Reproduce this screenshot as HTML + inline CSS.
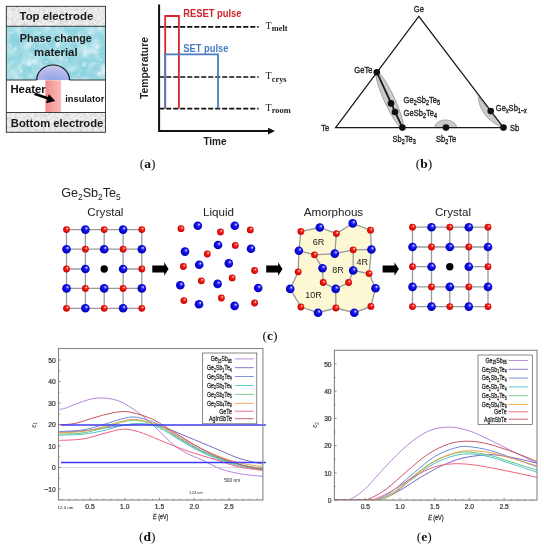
<!DOCTYPE html>
<html><head><meta charset="utf-8"><title>Figure</title>
<style>
html,body{margin:0;padding:0;background:#fff;}
svg{display:block}
text{font-family:"Liberation Sans",sans-serif;}
.ser{font-family:"Liberation Serif",serif;}
.b{font-weight:bold}
</style></head><body>
<svg width="544" height="550" viewBox="0 0 544 550">
<defs>
<radialGradient id="gb" cx="0.5" cy="0.5" fx="0.66" fy="0.32" r="0.62"><stop offset="0" stop-color="#f4f4ff"/><stop offset="0.16" stop-color="#8080ff"/><stop offset="0.3" stop-color="#2424f4"/><stop offset="0.55" stop-color="#0808e0"/><stop offset="1" stop-color="#000090"/></radialGradient>
<radialGradient id="gr" cx="0.5" cy="0.5" fx="0.66" fy="0.32" r="0.62"><stop offset="0" stop-color="#fff0e8"/><stop offset="0.16" stop-color="#ff9078"/><stop offset="0.3" stop-color="#f42a1c"/><stop offset="0.6" stop-color="#e80c0c"/><stop offset="1" stop-color="#980000"/></radialGradient>
<linearGradient id="heat" x1="0" x2="1" y1="0" y2="0"><stop offset="0" stop-color="#f28a8a"/><stop offset="0.5" stop-color="#f6a3a3"/><stop offset="1" stop-color="#f9bcbc"/></linearGradient>
<radialGradient id="dome" cx="0.5" cy="0.95" r="0.85"><stop offset="0" stop-color="#8fa4e6"/><stop offset="0.45" stop-color="#a9b0ea"/><stop offset="1" stop-color="#c6c8f0"/></radialGradient><radialGradient id="drop" cx="0.4" cy="0.35" r="0.65"><stop offset="0" stop-color="#fff" stop-opacity="0.55"/><stop offset="0.7" stop-color="#fff" stop-opacity="0.12"/><stop offset="1" stop-color="#3a9ab8" stop-opacity="0.35"/></radialGradient>
<filter id="marble" x="0" y="0" width="100%" height="100%"><feTurbulence type="fractalNoise" baseFrequency="0.35" numOctaves="3" seed="3" result="n"/><feColorMatrix in="n" type="matrix" values="0 0 0 0 0.5  0 0 0 0 0.5  0 0 0 0 0.5  0.9 0.9 0 0 -0.72"/><feComposite in2="SourceGraphic" operator="in"/></filter>
<filter id="water" x="0" y="0" width="100%" height="100%"><feTurbulence type="fractalNoise" baseFrequency="0.09" numOctaves="2" seed="8" result="n"/><feColorMatrix in="n" type="matrix" values="0 0 0 0 1  0 0 0 0 1  0 0 0 0 1  1.6 0 0 0 -0.55"/><feComposite in2="SourceGraphic" operator="in"/></filter>
<filter id="water2" x="0" y="0" width="100%" height="100%"><feTurbulence type="fractalNoise" baseFrequency="0.12" numOctaves="2" seed="21" result="n"/><feColorMatrix in="n" type="matrix" values="0 0 0 0 0.30  0 0 0 0 0.66  0 0 0 0 0.74  1.6 0 0 0 -0.55"/><feComposite in2="SourceGraphic" operator="in"/></filter>
</defs>
<rect width="544" height="550" fill="#fff"/>

<g id="device">
<g transform="translate(0.3 0.3)">
<rect x="6" y="6" width="99.2" height="20" fill="#f1f1f1"/>
<rect x="6" y="6" width="99.2" height="20" fill="#c4c4c4" filter="url(#marble)"/>
<rect x="6" y="112" width="99.2" height="20" fill="#f1f1f1"/>
<rect x="6" y="112" width="99.2" height="20" fill="#c4c4c4" filter="url(#marble)"/>
<rect x="6" y="26" width="99.2" height="54" fill="#8cd4e0"/>
<rect x="6" y="26" width="99.2" height="54" fill="#fff" filter="url(#water)"/>
<rect x="6" y="26" width="99.2" height="54" fill="#fff" filter="url(#water2)"/>
<ellipse cx="97.5" cy="47" rx="2.6" ry="3.3" fill="url(#drop)" transform="rotate(20 97.5 47)"/>
<ellipse cx="84" cy="65" rx="3" ry="3.6" fill="url(#drop)" transform="rotate(20 84 65)"/>
<ellipse cx="99" cy="74" rx="2.4" ry="2.8" fill="url(#drop)" transform="rotate(20 99 74)"/>
<ellipse cx="15.5" cy="49" rx="2.6" ry="3" fill="url(#drop)" transform="rotate(20 15.5 49)"/>
<ellipse cx="29" cy="65" rx="2.8" ry="3.3" fill="url(#drop)" transform="rotate(20 29 65)"/>
<ellipse cx="21" cy="72" rx="2" ry="2.4" fill="url(#drop)" transform="rotate(20 21 72)"/>
<ellipse cx="58" cy="45" rx="3" ry="3.4" fill="url(#drop)" transform="rotate(20 58 45)"/>
<ellipse cx="74" cy="40" rx="1.8" ry="2.2" fill="url(#drop)" transform="rotate(20 74 40)"/>
<ellipse cx="40" cy="33" rx="1.6" ry="2" fill="url(#drop)" transform="rotate(20 40 33)"/>
<ellipse cx="90" cy="33" rx="1.8" ry="2.2" fill="url(#drop)" transform="rotate(20 90 33)"/>
<ellipse cx="12" cy="33" rx="1.5" ry="1.8" fill="url(#drop)" transform="rotate(20 12 33)"/>
<ellipse cx="66" cy="60" rx="1.6" ry="2" fill="url(#drop)" transform="rotate(20 66 60)"/>
<ellipse cx="46" cy="62" rx="1.5" ry="1.8" fill="url(#drop)" transform="rotate(20 46 62)"/>
<ellipse cx="12" cy="62" rx="1.4" ry="1.7" fill="url(#drop)" transform="rotate(20 12 62)"/>
<ellipse cx="78" cy="75" rx="1.6" ry="1.9" fill="url(#drop)" transform="rotate(20 78 75)"/>
<ellipse cx="101" cy="60" rx="1.5" ry="1.9" fill="url(#drop)" transform="rotate(20 101 60)"/>
<ellipse cx="34" cy="47" rx="1.3" ry="1.6" fill="url(#drop)" transform="rotate(20 34 47)"/>
<ellipse cx="24" cy="38" rx="1.3" ry="1.6" fill="url(#drop)" transform="rotate(20 24 38)"/>
<rect x="6" y="80" width="99.2" height="32" fill="#fff"/>
<rect x="45.1" y="80" width="15.7" height="32" fill="url(#heat)"/>
<path d="M36.4 79.7 A16.4 15 0 0 1 69.2 79.7 Z" fill="url(#dome)"/>
<path d="M36.4 79.7 A16.4 15 0 0 1 69.2 79.7" fill="none" stroke="#111" stroke-width="1.2"/>
<g stroke="#2a2a2a" stroke-width="0.9" fill="none"><rect x="6" y="6" width="99.2" height="126"/><path d="M6 26H105.2M6 79.7H36.4M69.2 79.7H105.2M6 112.2H105.2"/></g>
<g class="b" fill="#1a1a1a" text-anchor="middle">
<text x="56.1" y="20.2" font-size="11" textLength="73.6" lengthAdjust="spacingAndGlyphs">Top electrode</text>
<text x="55.5" y="41.5" font-size="11" textLength="72" lengthAdjust="spacingAndGlyphs">Phase change</text>
<text x="55.5" y="55.6" font-size="11" textLength="43.5" lengthAdjust="spacingAndGlyphs">material</text>
<text x="56.8" y="126.8" font-size="11" textLength="92.5" lengthAdjust="spacingAndGlyphs">Bottom electrode</text>
</g>
<text x="10.1" y="92.4" font-size="10.5" fill="#111" textLength="35.4" lengthAdjust="spacingAndGlyphs" style="font-weight:bold">Heater</text>
<text x="65" y="102" font-size="8.5" fill="#111" textLength="39" lengthAdjust="spacingAndGlyphs" style="font-weight:bold">insulator</text>
<path d="M34.2 93.4L48 98.2" stroke="#000" stroke-width="2.7" fill="none"/><path d="M55 100.6L45.6 103L48.6 94Z" fill="#000"/>
</g></g>
<g id="pulse">
<path d="M159.1 4.5V131.1H269" stroke="#111" stroke-width="2" fill="none"/>
<path d="M275 131.1L268 127.7V134.5Z" fill="#111"/>
<g stroke="#111" stroke-width="1.7" stroke-dasharray="5.1 1.9" fill="none"><path d="M159.2 26.8H258.6"/><path d="M159.2 77H258.6"/><path d="M159.2 108.6H258.6"/></g>
<path d="M165.2 108.6V16H178.9V108.6" stroke="#d8262c" stroke-width="1.8" fill="none"/>
<path d="M165.2 108.6V54.3H218V108.6" stroke="#4a7cc0" stroke-width="1.8" fill="none"/>
<text x="183.3" y="16.6" font-size="10.5" class="b" fill="#d0242a" textLength="58.2" lengthAdjust="spacingAndGlyphs">RESET pulse</text>
<text x="183.3" y="51.9" font-size="10.5" class="b" fill="#4a7cc0" textLength="45.2" lengthAdjust="spacingAndGlyphs">SET pulse</text>
<text transform="translate(147.5 68) rotate(-90)" text-anchor="middle" font-size="10" class="b" fill="#222" textLength="62" lengthAdjust="spacingAndGlyphs">Temperature</text>
<text x="215" y="144.5" text-anchor="middle" font-size="10" class="b" fill="#222">Time</text>
<text x="265.6" y="29.2" font-size="10" class="ser" fill="#222">T<tspan font-size="8.4" dy="2.2" class="b">melt</tspan></text>
<text x="265.6" y="79.4" font-size="10" class="ser" fill="#222">T<tspan font-size="8.4" dy="2.2" class="b">crys</tspan></text>
<text x="265.6" y="111.2" font-size="10" class="ser" fill="#222">T<tspan font-size="8.4" dy="2.2" class="b">room</tspan></text>
</g>
<text x="147.7" y="168" text-anchor="middle" font-size="13.5" class="ser" fill="#111">(<tspan class="b">a</tspan>)</text>
<text x="423.9" y="168" text-anchor="middle" font-size="13.5" class="ser" fill="#111">(<tspan class="b">b</tspan>)</text>
<text x="270" y="339.5" text-anchor="middle" font-size="13.5" class="ser" fill="#111">(<tspan class="b">c</tspan>)</text>
<text x="147.2" y="541.3" text-anchor="middle" font-size="13.5" class="ser" fill="#111">(<tspan class="b">d</tspan>)</text>
<text x="424.3" y="541.3" text-anchor="middle" font-size="13.5" class="ser" fill="#111">(<tspan class="b">e</tspan>)</text>
<g id="tern">
<g fill="#cbcbcb" stroke="#808080" stroke-width="0.6">
<ellipse cx="389.6" cy="100" rx="30.8" ry="5.2" transform="rotate(65.3 389.6 100)"/>
<path d="M434.6 127.6A11 7.7 0 0 1 456.6 127.6Z"/>
<path d="M503.5 127.6C492 124 479 113 478.2 96.6Z"/>
</g>
<path d="M418.8 16.4L335.6 127.6H503.5Z" fill="none" stroke="#1a1a1a" stroke-width="1.25" stroke-linejoin="miter"/>
<path d="M376.8 72.2L402.4 127.6" stroke="#1a1a1a" stroke-width="1.8"/>
<circle cx="376.8" cy="72.2" r="3.3" fill="#111"/>
<circle cx="402.4" cy="127.6" r="3.3" fill="#111"/>
<circle cx="391" cy="103.4" r="3.3" fill="#111"/>
<circle cx="395" cy="112" r="3.3" fill="#111"/>
<circle cx="446" cy="127.6" r="3.3" fill="#111"/>
<circle cx="490.7" cy="111.1" r="3.3" fill="#111"/>
<circle cx="503.5" cy="127.6" r="3.3" fill="#111"/>
<g transform="translate(418.8 12) scale(0.84 1)"><text font-size="9" fill="#2a2a2a" stroke="#2a2a2a" stroke-width="0.4" text-anchor="middle">Ge</text></g>
<g transform="translate(325.2 130.8) scale(0.84 1)"><text font-size="9" fill="#2a2a2a" stroke="#2a2a2a" stroke-width="0.4" text-anchor="middle">Te</text></g>
<g transform="translate(514.6 130.8) scale(0.84 1)"><text font-size="9" fill="#2a2a2a" stroke="#2a2a2a" stroke-width="0.4" text-anchor="middle">Sb</text></g>
<g transform="translate(372.4 72.9) scale(0.84 1)"><text font-size="9" fill="#2a2a2a" stroke="#2a2a2a" stroke-width="0.4" text-anchor="end">GeTe</text></g>
<g transform="translate(403.6 102.8) scale(0.84 1)"><text font-size="9" fill="#2a2a2a" stroke="#2a2a2a" stroke-width="0.4" text-anchor="start">Ge<tspan font-size="6.5" dy="2">2</tspan><tspan dy="-2">Sb</tspan><tspan font-size="6.5" dy="2">2</tspan><tspan dy="-2">Te</tspan><tspan font-size="6.5" dy="2">5</tspan></text></g>
<g transform="translate(403.6 115.8) scale(0.84 1)"><text font-size="9" fill="#2a2a2a" stroke="#2a2a2a" stroke-width="0.4" text-anchor="start">GeSb<tspan font-size="6.5" dy="2">2</tspan><tspan dy="-2">Te</tspan><tspan font-size="6.5" dy="2">4</tspan></text></g>
<g transform="translate(392.5 142) scale(0.84 1)"><text font-size="9" fill="#2a2a2a" stroke="#2a2a2a" stroke-width="0.4" text-anchor="start">Sb<tspan font-size="6.5" dy="2">2</tspan><tspan dy="-2">Te</tspan><tspan font-size="6.5" dy="2">3</tspan></text></g>
<g transform="translate(435.9 142) scale(0.84 1)"><text font-size="9" fill="#2a2a2a" stroke="#2a2a2a" stroke-width="0.4" text-anchor="start">Sb<tspan font-size="6.5" dy="2">2</tspan><tspan dy="-2">Te</tspan></text></g>
<g transform="translate(495.8 110.8) scale(0.84 1)"><text font-size="9" fill="#2a2a2a" stroke="#2a2a2a" stroke-width="0.4" text-anchor="start">Ge<tspan font-size="6.5" dy="2" font-style="italic">x</tspan><tspan dy="-2">Sb</tspan><tspan font-size="6.5" dy="2">1−<tspan font-style="italic">x</tspan></tspan></text></g>
</g>
<g id="struct">
<path d="M66.5 229.6H85.4M85.4 229.6H104.2M104.2 229.6H123.1M123.1 229.6H141.8M66.5 249.2H85.4M85.4 249.2H104.2M104.2 249.2H123.1M123.1 249.2H141.8M66.5 269.0H85.4M123.1 269.0H141.8M66.5 288.4H85.4M85.4 288.4H104.2M104.2 288.4H123.1M123.1 288.4H141.8M66.5 308.3H85.4M85.4 308.3H104.2M104.2 308.3H123.1M123.1 308.3H141.8M66.5 229.6V249.2M66.5 249.2V269.0M66.5 269.0V288.4M66.5 288.4V308.3M85.4 229.6V249.2M85.4 249.2V269.0M85.4 269.0V288.4M85.4 288.4V308.3M104.2 229.6V249.2M104.2 288.4V308.3M123.1 229.6V249.2M123.1 249.2V269.0M123.1 269.0V288.4M123.1 288.4V308.3M141.8 229.6V249.2M141.8 249.2V269.0M141.8 269.0V288.4M141.8 288.4V308.3" stroke="#9a9a9a" stroke-width="1.3" fill="none"/>
<circle cx="66.5" cy="229.6" r="3.4" fill="url(#gr)"/>
<circle cx="85.4" cy="229.6" r="4.3" fill="url(#gb)"/>
<circle cx="104.2" cy="229.6" r="3.4" fill="url(#gr)"/>
<circle cx="123.1" cy="229.6" r="4.3" fill="url(#gb)"/>
<circle cx="141.8" cy="229.6" r="3.4" fill="url(#gr)"/>
<circle cx="66.5" cy="249.2" r="4.3" fill="url(#gb)"/>
<circle cx="85.4" cy="249.2" r="3.4" fill="url(#gr)"/>
<circle cx="104.2" cy="249.2" r="4.3" fill="url(#gb)"/>
<circle cx="123.1" cy="249.2" r="3.4" fill="url(#gr)"/>
<circle cx="141.8" cy="249.2" r="4.3" fill="url(#gb)"/>
<circle cx="66.5" cy="269.0" r="3.4" fill="url(#gr)"/>
<circle cx="85.4" cy="269.0" r="4.3" fill="url(#gb)"/>
<circle cx="104.2" cy="269.0" r="3.7" fill="#000"/>
<circle cx="123.1" cy="269.0" r="4.3" fill="url(#gb)"/>
<circle cx="141.8" cy="269.0" r="3.4" fill="url(#gr)"/>
<circle cx="66.5" cy="288.4" r="4.3" fill="url(#gb)"/>
<circle cx="85.4" cy="288.4" r="3.4" fill="url(#gr)"/>
<circle cx="104.2" cy="288.4" r="4.3" fill="url(#gb)"/>
<circle cx="123.1" cy="288.4" r="3.4" fill="url(#gr)"/>
<circle cx="141.8" cy="288.4" r="4.3" fill="url(#gb)"/>
<circle cx="66.5" cy="308.3" r="3.4" fill="url(#gr)"/>
<circle cx="85.4" cy="308.3" r="4.3" fill="url(#gb)"/>
<circle cx="104.2" cy="308.3" r="3.4" fill="url(#gr)"/>
<circle cx="123.1" cy="308.3" r="4.3" fill="url(#gb)"/>
<circle cx="141.8" cy="308.3" r="3.4" fill="url(#gr)"/>
<path d="M412.5 227.2H431.5M431.5 227.2H449.8M449.8 227.2H468.8M468.8 227.2H488.0M412.5 247.0H431.5M431.5 247.0H449.8M449.8 247.0H468.8M468.8 247.0H488.0M412.5 266.7H431.5M468.8 266.7H488.0M412.5 286.9H431.5M431.5 286.9H449.8M449.8 286.9H468.8M468.8 286.9H488.0M412.5 306.6H431.5M431.5 306.6H449.8M449.8 306.6H468.8M468.8 306.6H488.0M412.5 227.2V247.0M412.5 247.0V266.7M412.5 266.7V286.9M412.5 286.9V306.6M431.5 227.2V247.0M431.5 247.0V266.7M431.5 266.7V286.9M431.5 286.9V306.6M449.8 227.2V247.0M449.8 286.9V306.6M468.8 227.2V247.0M468.8 247.0V266.7M468.8 266.7V286.9M468.8 286.9V306.6M488.0 227.2V247.0M488.0 247.0V266.7M488.0 266.7V286.9M488.0 286.9V306.6" stroke="#9a9a9a" stroke-width="1.3" fill="none"/>
<circle cx="412.5" cy="227.2" r="3.4" fill="url(#gr)"/>
<circle cx="431.5" cy="227.2" r="4.3" fill="url(#gb)"/>
<circle cx="449.8" cy="227.2" r="3.4" fill="url(#gr)"/>
<circle cx="468.8" cy="227.2" r="4.3" fill="url(#gb)"/>
<circle cx="488.0" cy="227.2" r="3.4" fill="url(#gr)"/>
<circle cx="412.5" cy="247.0" r="4.3" fill="url(#gb)"/>
<circle cx="431.5" cy="247.0" r="3.4" fill="url(#gr)"/>
<circle cx="449.8" cy="247.0" r="4.3" fill="url(#gb)"/>
<circle cx="468.8" cy="247.0" r="3.4" fill="url(#gr)"/>
<circle cx="488.0" cy="247.0" r="4.3" fill="url(#gb)"/>
<circle cx="412.5" cy="266.7" r="3.4" fill="url(#gr)"/>
<circle cx="431.5" cy="266.7" r="4.3" fill="url(#gb)"/>
<circle cx="449.8" cy="266.7" r="3.7" fill="#000"/>
<circle cx="468.8" cy="266.7" r="4.3" fill="url(#gb)"/>
<circle cx="488.0" cy="266.7" r="3.4" fill="url(#gr)"/>
<circle cx="412.5" cy="286.9" r="4.3" fill="url(#gb)"/>
<circle cx="431.5" cy="286.9" r="3.4" fill="url(#gr)"/>
<circle cx="449.8" cy="286.9" r="4.3" fill="url(#gb)"/>
<circle cx="468.8" cy="286.9" r="3.4" fill="url(#gr)"/>
<circle cx="488.0" cy="286.9" r="4.3" fill="url(#gb)"/>
<circle cx="412.5" cy="306.6" r="3.4" fill="url(#gr)"/>
<circle cx="431.5" cy="306.6" r="4.3" fill="url(#gb)"/>
<circle cx="449.8" cy="306.6" r="3.4" fill="url(#gr)"/>
<circle cx="468.8" cy="306.6" r="4.3" fill="url(#gb)"/>
<circle cx="488.0" cy="306.6" r="3.4" fill="url(#gr)"/>
<circle cx="181.0" cy="228.7" r="3.4" fill="url(#gr)"/>
<circle cx="220.5" cy="232.0" r="3.4" fill="url(#gr)"/>
<circle cx="250.3" cy="229.9" r="3.4" fill="url(#gr)"/>
<circle cx="235.3" cy="245.4" r="3.4" fill="url(#gr)"/>
<circle cx="207.3" cy="254.0" r="3.4" fill="url(#gr)"/>
<circle cx="183.4" cy="266.5" r="3.4" fill="url(#gr)"/>
<circle cx="254.6" cy="270.5" r="3.4" fill="url(#gr)"/>
<circle cx="201.3" cy="280.8" r="3.4" fill="url(#gr)"/>
<circle cx="232.2" cy="277.9" r="3.4" fill="url(#gr)"/>
<circle cx="183.9" cy="300.6" r="3.4" fill="url(#gr)"/>
<circle cx="221.4" cy="298.0" r="3.4" fill="url(#gr)"/>
<circle cx="254.6" cy="303.0" r="3.4" fill="url(#gr)"/>
<circle cx="197.8" cy="225.8" r="4.3" fill="url(#gb)"/>
<circle cx="234.8" cy="225.8" r="4.3" fill="url(#gb)"/>
<circle cx="218.0" cy="245.0" r="4.3" fill="url(#gb)"/>
<circle cx="251.0" cy="248.8" r="4.3" fill="url(#gb)"/>
<circle cx="185.0" cy="251.6" r="4.3" fill="url(#gb)"/>
<circle cx="199.2" cy="264.8" r="4.3" fill="url(#gb)"/>
<circle cx="228.8" cy="263.4" r="4.3" fill="url(#gb)"/>
<circle cx="180.3" cy="285.3" r="4.3" fill="url(#gb)"/>
<circle cx="217.6" cy="283.9" r="4.3" fill="url(#gb)"/>
<circle cx="258.2" cy="288.0" r="4.3" fill="url(#gb)"/>
<circle cx="199.0" cy="304.2" r="4.3" fill="url(#gb)"/>
<circle cx="234.6" cy="305.9" r="4.3" fill="url(#gb)"/>
<path d="M300.9 231.4L319.8 227.5L336.4 233.6L352.7 223.4L370.5 230.2L371.4 249.5L369.1 273.6L375.5 288.2L370.9 306.4L354.3 312.7L335.9 308.0L318.0 312.7L300.9 307.0L290.2 288.9L298.2 271.8L298.9 250.7Z" fill="#fdf8d4" stroke="#9a9a9a" stroke-width="1.3"/>
<path d="M336.4 233.6L334.8 253.6M298.9 250.7L314.5 254.8L334.8 253.6L353.2 249.8L371.4 249.5M314.5 254.8L322.5 268.2L323.2 282.5L335.7 288.9L348.6 282.5L353.2 270.5L353.2 249.8M353.2 270.5L369.1 273.6M335.7 288.9L335.9 308.0" fill="none" stroke="#9a9a9a" stroke-width="1.3"/>
<circle cx="300.9" cy="231.4" r="3.4" fill="url(#gr)"/>
<circle cx="336.4" cy="233.6" r="3.4" fill="url(#gr)"/>
<circle cx="370.5" cy="230.2" r="3.4" fill="url(#gr)"/>
<circle cx="314.5" cy="254.8" r="3.4" fill="url(#gr)"/>
<circle cx="353.2" cy="249.8" r="3.4" fill="url(#gr)"/>
<circle cx="298.2" cy="271.8" r="3.4" fill="url(#gr)"/>
<circle cx="369.1" cy="273.6" r="3.4" fill="url(#gr)"/>
<circle cx="323.2" cy="282.5" r="3.4" fill="url(#gr)"/>
<circle cx="348.6" cy="282.5" r="3.4" fill="url(#gr)"/>
<circle cx="300.9" cy="307.0" r="3.4" fill="url(#gr)"/>
<circle cx="335.9" cy="308.0" r="3.4" fill="url(#gr)"/>
<circle cx="370.9" cy="306.4" r="3.4" fill="url(#gr)"/>
<circle cx="319.8" cy="227.5" r="4.3" fill="url(#gb)"/>
<circle cx="352.7" cy="223.4" r="4.3" fill="url(#gb)"/>
<circle cx="298.9" cy="250.7" r="4.3" fill="url(#gb)"/>
<circle cx="334.8" cy="253.6" r="4.3" fill="url(#gb)"/>
<circle cx="371.4" cy="249.5" r="4.3" fill="url(#gb)"/>
<circle cx="322.5" cy="268.2" r="4.3" fill="url(#gb)"/>
<circle cx="353.2" cy="270.5" r="4.3" fill="url(#gb)"/>
<circle cx="290.2" cy="288.9" r="4.3" fill="url(#gb)"/>
<circle cx="335.7" cy="288.9" r="4.3" fill="url(#gb)"/>
<circle cx="375.5" cy="288.2" r="4.3" fill="url(#gb)"/>
<circle cx="318.0" cy="312.7" r="4.3" fill="url(#gb)"/>
<circle cx="354.3" cy="312.7" r="4.3" fill="url(#gb)"/>
<g font-size="9" fill="#222" text-anchor="middle"><text x="318.6" y="244.9">6R</text><text x="362.3" y="264.7">4R</text><text x="338" y="273.3">8R</text><text x="313.6" y="298.3">10R</text></g>
<path d="M152.3 265.4h11.9v-3.2l4.4 6.8l-4.4 6.8v-3.2h-11.9z" fill="#000"/>
<path d="M266.2 265.4h11.9v-3.2l4.4 6.8l-4.4 6.8v-3.2h-11.9z" fill="#000"/>
<path d="M382.6 265.4h11.9v-3.2l4.4 6.8l-4.4 6.8v-3.2h-11.9z" fill="#000"/>
<g font-size="11.6" fill="#222">
<text x="61.2" y="197.4" font-size="12.6">Ge<tspan font-size="8.4" dy="2.4">2</tspan><tspan dy="-2.4">Sb</tspan><tspan font-size="8.4" dy="2.4">2</tspan><tspan dy="-2.4">Te</tspan><tspan font-size="8.4" dy="2.4">5</tspan></text>
<text x="105.4" y="215.6" text-anchor="middle">Crystal</text><text x="218.5" y="215.8" text-anchor="middle">Liquid</text><text x="333.5" y="216" text-anchor="middle">Amorphous</text><text x="453" y="216.4" text-anchor="middle">Crystal</text>
</g></g>
<g id="pd">
<clipPath id="cd"><rect x="58.5" y="348.5" width="204.4" height="151.5"/></clipPath>
<path d="M58.5 467.5H263.5" stroke="#c8c8c8" stroke-width="0.7"/>
<g clip-path="url(#cd)" fill="none" stroke-width="1">
<path d="M59.4 409.2C60.1 409.1 61.9 409.2 63.6 408.7C65.3 408.2 67.2 407.5 69.8 406.4C72.5 405.4 75.1 404.0 79.6 402.6C84.1 401.2 90.6 398.4 97.0 398.1C103.3 397.7 110.8 398.2 117.8 400.6C124.8 403.1 132.3 408.3 138.7 412.9C145.0 417.4 150.2 422.6 156.0 427.9C161.8 433.2 168.2 440.4 173.4 444.7C178.6 449.0 182.7 451.1 187.3 453.5C191.9 456.0 195.4 456.9 201.2 459.5C207.0 462.2 215.1 467.0 222.0 469.4C229.0 471.9 235.9 473.0 242.9 474.2C249.9 475.3 260.3 476.1 263.8 476.5" stroke="#b784d6"/>
<path d="M59.4 432.2C63.4 432.0 74.5 431.8 83.0 430.9C91.6 430.1 101.6 428.2 110.8 427.1C120.1 425.9 130.5 424.2 138.7 424.1C146.8 423.9 151.4 423.9 159.5 426.0C167.6 428.1 178.0 433.0 187.3 436.8C196.6 440.5 207.0 445.0 215.1 448.4C223.2 451.8 230.2 455.0 236.0 457.2C241.7 459.3 245.2 460.1 249.8 461.3C254.5 462.4 261.4 463.8 263.8 464.3" stroke="#7a66c8"/>
<path d="M59.4 431.6C63.4 431.3 75.6 431.1 83.0 429.9C90.5 428.7 96.9 426.5 103.9 424.5C110.8 422.5 119.0 419.2 124.8 418.1C130.5 416.9 132.9 416.5 138.7 417.6C144.4 418.8 152.6 421.5 159.5 424.9C166.4 428.4 173.4 434.2 180.4 438.5C187.3 442.7 194.2 446.8 201.2 450.3C208.1 453.8 215.1 456.8 222.0 459.3C229.0 461.8 235.9 463.8 242.9 465.4C249.9 466.9 260.3 468.2 263.8 468.8" stroke="#6a8ad8"/>
<path d="M59.4 435.2C63.4 435.1 75.6 435.0 83.0 434.2C90.5 433.4 96.9 432.1 103.9 430.5C110.8 429.0 118.4 426.1 124.8 424.9C131.1 423.8 136.3 423.1 142.1 423.6C147.9 424.1 153.1 425.1 159.5 427.9C165.9 430.7 173.4 436.4 180.4 440.4C187.3 444.4 194.2 448.7 201.2 452.0C208.1 455.4 215.1 458.2 222.0 460.6C229.0 463.1 235.9 465.1 242.9 466.6C249.9 468.2 260.3 469.5 263.8 470.1" stroke="#4fc3cf"/>
<path d="M59.4 434.0C63.4 433.8 75.6 433.9 83.0 432.9C90.5 431.9 96.9 429.8 103.9 427.9C110.8 426.0 119.0 422.7 124.8 421.5C130.5 420.3 132.9 419.8 138.7 420.6C144.4 421.5 152.6 423.5 159.5 426.6C166.4 429.8 173.4 435.5 180.4 439.6C187.3 443.6 194.2 447.8 201.2 451.2C208.1 454.5 215.1 457.4 222.0 459.8C229.0 462.1 235.9 463.9 242.9 465.4C249.9 466.8 260.3 467.9 263.8 468.4" stroke="#6cc77a"/>
<path d="M59.4 432.7C63.4 432.5 75.6 432.4 83.0 431.4C90.5 430.4 96.9 428.5 103.9 426.6C110.8 424.8 119.0 421.6 124.8 420.4C130.5 419.3 132.9 418.9 138.7 419.8C144.4 420.6 152.6 422.4 159.5 425.4C166.4 428.3 173.4 433.5 180.4 437.4C187.3 441.3 194.2 445.2 201.2 448.6C208.1 451.9 215.1 455.1 222.0 457.6C229.0 460.1 235.9 462.1 242.9 463.6C249.9 465.1 260.3 466.1 263.8 466.6" stroke="#f2a04a"/>
<path d="M59.4 440.4C63.4 440.2 75.6 440.1 83.0 438.9C90.5 437.8 97.3 435.1 103.9 433.5C110.5 431.9 116.9 429.5 122.7 429.2C128.5 428.9 132.5 430.0 138.7 431.8C144.8 433.6 151.4 436.8 159.5 440.0C167.6 443.2 178.0 447.7 187.3 450.9C196.6 454.2 207.0 457.0 215.1 459.5C223.2 462.1 230.2 464.7 236.0 466.2C241.7 467.8 245.2 468.1 249.8 468.8C254.5 469.5 261.4 470.2 263.8 470.5" stroke="#f0607a"/>
<path d="M59.4 424.9C62.2 424.6 69.8 424.6 76.1 423.2C82.4 421.8 90.0 418.6 97.0 416.8C103.9 414.9 112.0 412.7 117.8 412.0C123.6 411.3 125.9 411.2 131.7 412.5C137.5 413.7 145.6 416.1 152.6 419.3C159.5 422.6 166.4 427.6 173.4 431.8C180.3 436.0 187.3 440.8 194.2 444.7C201.2 448.7 208.1 452.4 215.1 455.5C222.1 458.5 230.2 461.3 236.0 463.2C241.7 465.1 245.2 466.0 249.8 467.1C254.5 468.1 261.4 469.2 263.8 469.6" stroke="#c65560"/>
</g>
<path d="M61 425H266" stroke="#3c3cf2" stroke-width="1.4"/><path d="M61 462.5H266" stroke="#3c3cf2" stroke-width="1.4"/>
<rect x="58.5" y="348.5" width="204.4" height="151.5" fill="none" stroke="#858585" stroke-width="1.1"/>
<path d="M58.5 489.0h2.2M58.5 467.5h2.2M58.5 446.0h2.2M58.5 424.5h2.2M58.5 403.0h2.2M58.5 381.5h2.2M58.5 360.0h2.2M58.5 499.8h1.2M58.5 478.2h1.2M58.5 456.8h1.2M58.5 435.2h1.2M58.5 413.8h1.2M58.5 392.2h1.2M58.5 370.8h1.2M62.2 500v-1.2M69.2 500v-1.2M76.1 500v-1.2M83.0 500v-1.2M90.0 500v-2.2M97.0 500v-1.2M103.9 500v-1.2M110.8 500v-1.2M117.8 500v-1.2M124.8 500v-2.2M131.7 500v-1.2M138.7 500v-1.2M145.6 500v-1.2M152.6 500v-1.2M159.5 500v-2.2M166.4 500v-1.2M173.4 500v-1.2M180.4 500v-1.2M187.3 500v-1.2M194.2 500v-2.2M201.2 500v-1.2M208.2 500v-1.2M215.1 500v-1.2M222.0 500v-1.2M229.0 500v-2.2M236.0 500v-1.2M242.9 500v-1.2M249.8 500v-1.2M256.8 500v-1.2" stroke="#666" stroke-width="0.7"/>
<g transform="translate(55.8 491.7) scale(0.85 1)"><text font-size="7.9" fill="#333" stroke="#333" stroke-width="0.25" text-anchor="end">−10</text></g>
<g transform="translate(55.8 470.2) scale(0.85 1)"><text font-size="7.9" fill="#333" stroke="#333" stroke-width="0.25" text-anchor="end">0</text></g>
<g transform="translate(55.8 448.7) scale(0.85 1)"><text font-size="7.9" fill="#333" stroke="#333" stroke-width="0.25" text-anchor="end">10</text></g>
<g transform="translate(55.8 427.2) scale(0.85 1)"><text font-size="7.9" fill="#333" stroke="#333" stroke-width="0.25" text-anchor="end">20</text></g>
<g transform="translate(55.8 405.7) scale(0.85 1)"><text font-size="7.9" fill="#333" stroke="#333" stroke-width="0.25" text-anchor="end">30</text></g>
<g transform="translate(55.8 384.2) scale(0.85 1)"><text font-size="7.9" fill="#333" stroke="#333" stroke-width="0.25" text-anchor="end">40</text></g>
<g transform="translate(55.8 362.7) scale(0.85 1)"><text font-size="7.9" fill="#333" stroke="#333" stroke-width="0.25" text-anchor="end">50</text></g>
<g transform="translate(90.0 508.6) scale(0.85 1)"><text font-size="7.9" fill="#333" stroke="#333" stroke-width="0.25" text-anchor="middle">0.5</text></g>
<g transform="translate(124.75 508.6) scale(0.85 1)"><text font-size="7.9" fill="#333" stroke="#333" stroke-width="0.25" text-anchor="middle">1.0</text></g>
<g transform="translate(159.5 508.6) scale(0.85 1)"><text font-size="7.9" fill="#333" stroke="#333" stroke-width="0.25" text-anchor="middle">1.5</text></g>
<g transform="translate(194.25 508.6) scale(0.85 1)"><text font-size="7.9" fill="#333" stroke="#333" stroke-width="0.25" text-anchor="middle">2.0</text></g>
<g transform="translate(229.0 508.6) scale(0.85 1)"><text font-size="7.9" fill="#333" stroke="#333" stroke-width="0.25" text-anchor="middle">2.5</text></g>
<g transform="translate(160.7 519.4) scale(0.82 1)"><text font-size="6.6" fill="#333" stroke="#333" stroke-width="0.25" text-anchor="middle"><tspan font-style="italic">E</tspan> (eV)</text></g>
<text transform="translate(35.5 425) rotate(-90)" text-anchor="middle" font-size="7" font-style="italic" fill="#333">ε<tspan font-size="4.5" dy="1.5" font-style="normal">1</tspan></text>
<g font-size="4" fill="#222" style="font-family:'Liberation Mono',monospace"><text x="224.2" y="481.6" font-size="4.8">500 nm</text><text x="188.9" y="494.4" font-size="3.8">1.24 um</text><text x="57.6" y="509.1" font-size="4.4">12.4 um</text></g>
<rect x="202.7" y="353" width="54.10000000000002" height="70.80000000000001" fill="#fff" stroke="#555" stroke-width="0.7"/>
<path d="M234.9 358.9H253.7" stroke="#b784d6" stroke-width="0.9"/>
<g transform="translate(231.8 361.2) scale(0.76 1)"><text font-size="6.9" fill="#2a2a2a" stroke="#2a2a2a" stroke-width="0.25" text-anchor="end">Ge<tspan font-size="4.6" dy="1.6">15</tspan><tspan dy="-1.6">Sb</tspan><tspan font-size="4.6" dy="1.6">85</tspan></text></g>
<path d="M234.9 367.7H253.7" stroke="#7a66c8" stroke-width="0.9"/>
<g transform="translate(231.8 370.0) scale(0.76 1)"><text font-size="6.9" fill="#2a2a2a" stroke="#2a2a2a" stroke-width="0.25" text-anchor="end">Ge<tspan font-size="4.6" dy="1.6">2</tspan><tspan dy="-1.6">Sb</tspan><tspan font-size="4.6" dy="1.6">1</tspan><tspan dy="-1.6">Te</tspan><tspan font-size="4.6" dy="1.6">4</tspan></text></g>
<path d="M234.9 376.5H253.7" stroke="#6a8ad8" stroke-width="0.9"/>
<g transform="translate(231.8 378.8) scale(0.76 1)"><text font-size="6.9" fill="#2a2a2a" stroke="#2a2a2a" stroke-width="0.25" text-anchor="end">Ge<tspan font-size="4.6" dy="1.6">1</tspan><tspan dy="-1.6">Sb</tspan><tspan font-size="4.6" dy="1.6">2</tspan><tspan dy="-1.6">Te</tspan><tspan font-size="4.6" dy="1.6">4</tspan></text></g>
<path d="M234.9 385.5H253.7" stroke="#4fc3cf" stroke-width="0.9"/>
<g transform="translate(231.8 387.8) scale(0.76 1)"><text font-size="6.9" fill="#2a2a2a" stroke="#2a2a2a" stroke-width="0.25" text-anchor="end">Ge<tspan font-size="4.6" dy="1.6">2</tspan><tspan dy="-1.6">Sb</tspan><tspan font-size="4.6" dy="1.6">2</tspan><tspan dy="-1.6">Te</tspan><tspan font-size="4.6" dy="1.6">4</tspan></text></g>
<path d="M234.9 394.4H253.7" stroke="#6cc77a" stroke-width="0.9"/>
<g transform="translate(231.8 396.7) scale(0.76 1)"><text font-size="6.9" fill="#2a2a2a" stroke="#2a2a2a" stroke-width="0.25" text-anchor="end">Ge<tspan font-size="4.6" dy="1.6">2</tspan><tspan dy="-1.6">Sb</tspan><tspan font-size="4.6" dy="1.6">2</tspan><tspan dy="-1.6">Te</tspan><tspan font-size="4.6" dy="1.6">5</tspan></text></g>
<path d="M234.9 403.3H253.7" stroke="#f2a04a" stroke-width="0.9"/>
<g transform="translate(231.8 405.6) scale(0.76 1)"><text font-size="6.9" fill="#2a2a2a" stroke="#2a2a2a" stroke-width="0.25" text-anchor="end">Ge<tspan font-size="4.6" dy="1.6">2</tspan><tspan dy="-1.6">Sb</tspan><tspan font-size="4.6" dy="1.6">4</tspan><tspan dy="-1.6">Te</tspan><tspan font-size="4.6" dy="1.6">9</tspan></text></g>
<path d="M234.9 411.2H253.7" stroke="#f0607a" stroke-width="0.9"/>
<g transform="translate(231.8 413.5) scale(0.76 1)"><text font-size="6.9" fill="#2a2a2a" stroke="#2a2a2a" stroke-width="0.25" text-anchor="end">GeTe</text></g>
<path d="M234.9 418.7H253.7" stroke="#c65560" stroke-width="0.9"/>
<g transform="translate(231.8 421.0) scale(0.76 1)"><text font-size="6.9" fill="#2a2a2a" stroke="#2a2a2a" stroke-width="0.25" text-anchor="end">AgInSbTe</text></g>
</g>
<g id="pe">
<clipPath id="ce"><rect x="334.4" y="350.3" width="202.6" height="149.8"/></clipPath>
<g clip-path="url(#ce)" fill="none" stroke-width="1">
<path d="M334.8 500.1C336.4 500.1 341.7 500.2 344.5 500.0C347.3 499.7 348.0 500.6 351.4 498.7C354.9 496.9 359.5 494.1 365.3 488.7C371.1 483.2 379.2 473.2 386.1 466.0C393.1 458.9 400.0 451.4 406.9 445.6C413.9 439.8 420.8 434.5 427.8 431.4C434.7 428.3 441.6 427.2 448.6 427.1C455.5 427.0 462.5 428.7 469.4 430.9C476.3 433.1 483.3 436.9 490.2 440.2C497.2 443.4 502.9 446.5 511.0 450.5C519.1 454.5 534.2 461.9 538.8 464.1" stroke="#b784d6"/>
<path d="M334.8 500.1C341.0 500.1 364.3 500.3 372.2 500.1C380.2 499.9 378.0 500.4 382.7 498.7C387.3 497.1 393.6 493.9 400.0 490.3C406.4 486.7 413.9 481.3 420.8 477.2C427.8 473.1 434.7 468.9 441.6 465.8C448.6 462.6 455.5 459.9 462.5 458.1C469.4 456.4 477.5 455.6 483.3 455.1C489.1 454.6 491.4 454.5 497.2 455.1C502.9 455.7 511.0 457.3 518.0 458.7C524.9 460.1 535.3 462.8 538.8 463.6" stroke="#7a66c8"/>
<path d="M334.8 500.1C340.4 500.1 361.4 500.3 368.8 500.1C376.2 499.9 375.1 500.3 379.2 498.7C383.2 497.1 387.3 494.9 393.1 490.6C398.8 486.2 406.9 478.5 413.9 472.9C420.8 467.2 427.8 460.7 434.7 456.5C441.6 452.3 449.7 449.4 455.5 447.8C461.3 446.1 463.6 446.2 469.4 446.7C475.2 447.1 483.3 448.7 490.2 450.5C497.2 452.3 502.9 454.8 511.0 457.6C519.1 460.4 534.2 465.8 538.8 467.4" stroke="#6a8ad8"/>
<path d="M334.8 500.1C341.0 500.1 364.3 500.4 372.2 500.1C380.2 499.8 378.6 499.9 382.7 498.5C386.7 497.0 391.3 494.8 396.5 491.4C401.7 487.9 407.5 482.4 413.9 477.8C420.2 473.1 427.8 467.0 434.7 463.3C441.6 459.6 449.2 457.0 455.5 455.4C461.9 453.9 467.1 453.8 472.9 454.0C478.7 454.3 483.9 455.5 490.2 457.0C496.6 458.6 502.9 461.0 511.0 463.6C519.1 466.2 534.2 471.3 538.8 472.9" stroke="#4fc3cf"/>
<path d="M334.8 500.1C341.0 500.1 364.3 500.4 372.2 500.1C380.2 499.8 378.6 499.8 382.7 498.2C386.7 496.6 391.3 494.1 396.5 490.3C401.7 486.5 407.5 480.5 413.9 475.6C420.2 470.7 427.8 464.6 434.7 460.9C441.6 457.1 449.7 454.7 455.5 453.2C461.3 451.8 463.6 451.8 469.4 452.1C475.2 452.5 483.3 453.8 490.2 455.4C497.2 457.0 502.9 459.4 511.0 462.0C519.1 464.5 534.2 469.2 538.8 470.7" stroke="#6cc77a"/>
<path d="M334.8 500.1C341.0 500.1 364.3 500.3 372.2 500.1C380.2 499.9 378.6 500.2 382.7 498.7C386.7 497.3 391.3 495.1 396.5 491.4C401.7 487.7 407.5 481.7 413.9 476.7C420.2 471.7 427.8 465.4 434.7 461.4C441.6 457.4 449.2 454.5 455.5 452.7C461.9 450.9 467.1 450.8 472.9 450.8C478.7 450.8 483.9 451.5 490.2 452.7C496.6 453.9 502.9 455.9 511.0 458.1C519.1 460.4 534.2 464.9 538.8 466.3" stroke="#f2a04a"/>
<path d="M334.8 500.1C339.9 500.1 358.5 500.3 365.3 500.1C372.1 499.9 371.1 500.4 375.7 498.7C380.3 497.1 386.7 494.0 393.1 490.3C399.4 486.6 406.9 480.6 413.9 476.7C420.8 472.8 428.3 469.0 434.7 466.9C441.1 464.7 446.3 464.3 452.1 463.9C457.8 463.4 463.0 463.8 469.4 464.4C475.8 465.0 483.3 466.4 490.2 467.7C497.2 468.9 502.9 470.1 511.0 471.8C519.1 473.4 534.2 476.8 538.8 477.8" stroke="#f0607a"/>
<path d="M334.8 500.1C338.9 500.1 354.1 500.3 359.7 500.1C365.4 499.9 364.4 500.8 368.8 499.0C373.2 497.2 379.8 493.8 386.1 489.2C392.5 484.6 400.0 477.0 406.9 471.2C413.9 465.4 420.8 458.9 427.8 454.3C434.7 449.8 442.2 446.1 448.6 444.0C454.9 441.8 460.1 441.4 465.9 441.2C471.7 441.1 476.9 441.6 483.3 442.9C489.6 444.1 497.2 446.6 504.1 448.9C511.0 451.1 519.1 454.2 524.9 456.5C530.7 458.8 536.5 461.5 538.8 462.5" stroke="#c65560"/>
</g>
<rect x="334.4" y="350.3" width="202.6" height="149.8" fill="none" stroke="#858585" stroke-width="1.1"/>
<path d="M334.4 500.1h2.2M334.4 472.9h2.2M334.4 445.6h2.2M334.4 418.4h2.2M334.4 391.1h2.2M334.4 363.9h2.2M334.4 486.5h1.2M334.4 459.2h1.2M334.4 432.0h1.2M334.4 404.7h1.2M334.4 377.5h1.2M337.5 500.1v-1.2M344.5 500.1v-1.2M351.4 500.1v-1.2M358.4 500.1v-1.2M365.3 500.1v-2.2M372.2 500.1v-1.2M379.2 500.1v-1.2M386.1 500.1v-1.2M393.1 500.1v-1.2M400.0 500.1v-2.2M406.9 500.1v-1.2M413.9 500.1v-1.2M420.8 500.1v-1.2M427.8 500.1v-1.2M434.7 500.1v-2.2M441.6 500.1v-1.2M448.6 500.1v-1.2M455.5 500.1v-1.2M462.5 500.1v-1.2M469.4 500.1v-2.2M476.3 500.1v-1.2M483.3 500.1v-1.2M490.2 500.1v-1.2M497.2 500.1v-1.2M504.1 500.1v-2.2M511.0 500.1v-1.2M518.0 500.1v-1.2M524.9 500.1v-1.2M531.9 500.1v-1.2" stroke="#666" stroke-width="0.7"/>
<g transform="translate(331.6 502.8) scale(0.85 1)"><text font-size="7.9" fill="#333" stroke="#333" stroke-width="0.25" text-anchor="end">0</text></g>
<g transform="translate(331.6 475.55) scale(0.85 1)"><text font-size="7.9" fill="#333" stroke="#333" stroke-width="0.25" text-anchor="end">10</text></g>
<g transform="translate(331.6 448.3) scale(0.85 1)"><text font-size="7.9" fill="#333" stroke="#333" stroke-width="0.25" text-anchor="end">20</text></g>
<g transform="translate(331.6 421.05) scale(0.85 1)"><text font-size="7.9" fill="#333" stroke="#333" stroke-width="0.25" text-anchor="end">30</text></g>
<g transform="translate(331.6 393.8) scale(0.85 1)"><text font-size="7.9" fill="#333" stroke="#333" stroke-width="0.25" text-anchor="end">40</text></g>
<g transform="translate(331.6 366.55) scale(0.85 1)"><text font-size="7.9" fill="#333" stroke="#333" stroke-width="0.25" text-anchor="end">50</text></g>
<g transform="translate(365.3 508.8) scale(0.85 1)"><text font-size="7.9" fill="#333" stroke="#333" stroke-width="0.25" text-anchor="middle">0.5</text></g>
<g transform="translate(400.0 508.8) scale(0.85 1)"><text font-size="7.9" fill="#333" stroke="#333" stroke-width="0.25" text-anchor="middle">1.0</text></g>
<g transform="translate(434.70000000000005 508.8) scale(0.85 1)"><text font-size="7.9" fill="#333" stroke="#333" stroke-width="0.25" text-anchor="middle">1.5</text></g>
<g transform="translate(469.40000000000003 508.8) scale(0.85 1)"><text font-size="7.9" fill="#333" stroke="#333" stroke-width="0.25" text-anchor="middle">2.0</text></g>
<g transform="translate(504.1 508.8) scale(0.85 1)"><text font-size="7.9" fill="#333" stroke="#333" stroke-width="0.25" text-anchor="middle">2.5</text></g>
<g transform="translate(435.8 519.6) scale(0.82 1)"><text font-size="6.6" fill="#333" stroke="#333" stroke-width="0.25" text-anchor="middle"><tspan font-style="italic">E</tspan> (eV)</text></g>
<text transform="translate(317 425) rotate(-90)" text-anchor="middle" font-size="7" font-style="italic" fill="#333">ε<tspan font-size="4.5" dy="1.5" font-style="normal">2</tspan></text>
<rect x="478" y="355" width="54.299999999999955" height="69.60000000000002" fill="#fff" stroke="#555" stroke-width="0.7"/>
<path d="M508.6 360.5H528" stroke="#b784d6" stroke-width="0.9"/>
<g transform="translate(506.6 362.8) scale(0.76 1)"><text font-size="6.9" fill="#2a2a2a" stroke="#2a2a2a" stroke-width="0.25" text-anchor="end">Ge<tspan font-size="4.6" dy="1.6">15</tspan><tspan dy="-1.6">Sb</tspan><tspan font-size="4.6" dy="1.6">85</tspan></text></g>
<path d="M508.6 369.3H528" stroke="#7a66c8" stroke-width="0.9"/>
<g transform="translate(506.6 371.6) scale(0.76 1)"><text font-size="6.9" fill="#2a2a2a" stroke="#2a2a2a" stroke-width="0.25" text-anchor="end">Ge<tspan font-size="4.6" dy="1.6">2</tspan><tspan dy="-1.6">Sb</tspan><tspan font-size="4.6" dy="1.6">1</tspan><tspan dy="-1.6">Te</tspan><tspan font-size="4.6" dy="1.6">4</tspan></text></g>
<path d="M508.6 378.1H528" stroke="#6a8ad8" stroke-width="0.9"/>
<g transform="translate(506.6 380.40000000000003) scale(0.76 1)"><text font-size="6.9" fill="#2a2a2a" stroke="#2a2a2a" stroke-width="0.25" text-anchor="end">Ge<tspan font-size="4.6" dy="1.6">1</tspan><tspan dy="-1.6">Sb</tspan><tspan font-size="4.6" dy="1.6">2</tspan><tspan dy="-1.6">Te</tspan><tspan font-size="4.6" dy="1.6">4</tspan></text></g>
<path d="M508.6 386.9H528" stroke="#4fc3cf" stroke-width="0.9"/>
<g transform="translate(506.6 389.2) scale(0.76 1)"><text font-size="6.9" fill="#2a2a2a" stroke="#2a2a2a" stroke-width="0.25" text-anchor="end">Ge<tspan font-size="4.6" dy="1.6">2</tspan><tspan dy="-1.6">Sb</tspan><tspan font-size="4.6" dy="1.6">2</tspan><tspan dy="-1.6">Te</tspan><tspan font-size="4.6" dy="1.6">4</tspan></text></g>
<path d="M508.6 395.7H528" stroke="#6cc77a" stroke-width="0.9"/>
<g transform="translate(506.6 398.0) scale(0.76 1)"><text font-size="6.9" fill="#2a2a2a" stroke="#2a2a2a" stroke-width="0.25" text-anchor="end">Ge<tspan font-size="4.6" dy="1.6">2</tspan><tspan dy="-1.6">Sb</tspan><tspan font-size="4.6" dy="1.6">2</tspan><tspan dy="-1.6">Te</tspan><tspan font-size="4.6" dy="1.6">5</tspan></text></g>
<path d="M508.6 404.5H528" stroke="#f2a04a" stroke-width="0.9"/>
<g transform="translate(506.6 406.8) scale(0.76 1)"><text font-size="6.9" fill="#2a2a2a" stroke="#2a2a2a" stroke-width="0.25" text-anchor="end">Ge<tspan font-size="4.6" dy="1.6">2</tspan><tspan dy="-1.6">Sb</tspan><tspan font-size="4.6" dy="1.6">4</tspan><tspan dy="-1.6">Te</tspan><tspan font-size="4.6" dy="1.6">9</tspan></text></g>
<path d="M508.6 411.8H528" stroke="#f0607a" stroke-width="0.9"/>
<g transform="translate(506.6 414.1) scale(0.76 1)"><text font-size="6.9" fill="#2a2a2a" stroke="#2a2a2a" stroke-width="0.25" text-anchor="end">GeTe</text></g>
<path d="M508.6 419.2H528" stroke="#c65560" stroke-width="0.9"/>
<g transform="translate(506.6 421.5) scale(0.76 1)"><text font-size="6.9" fill="#2a2a2a" stroke="#2a2a2a" stroke-width="0.25" text-anchor="end">AgInSbTe</text></g>
</g>
</svg></body></html>
